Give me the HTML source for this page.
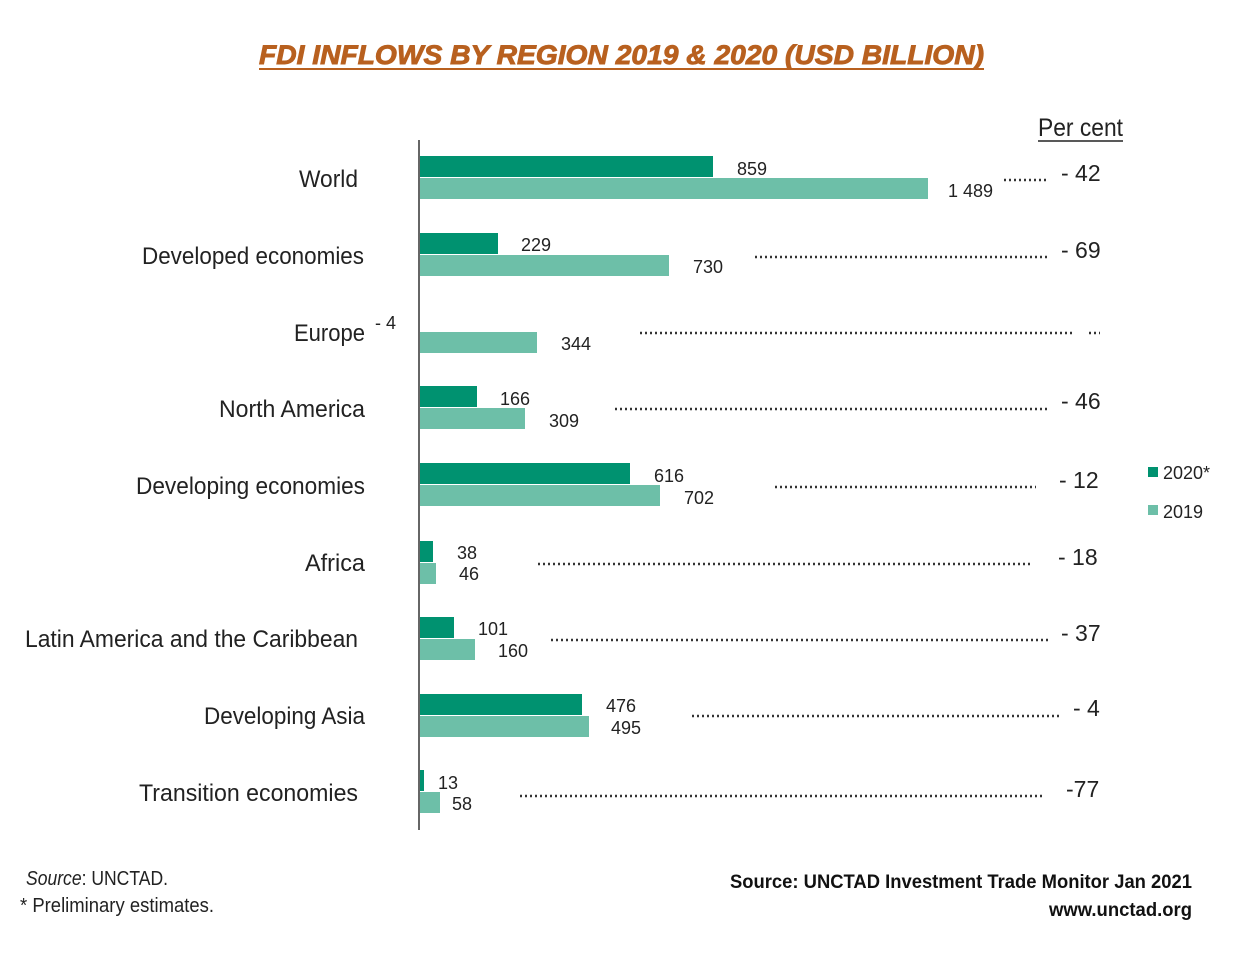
<!DOCTYPE html>
<html><head><meta charset="utf-8"><style>
body{margin:0;background:#fff;}
svg{display:block;font-family:"Liberation Sans",sans-serif;}
</style></head><body>
<svg width="1240" height="953" viewBox="0 0 1240 953" xmlns="http://www.w3.org/2000/svg">
<rect width="1240" height="953" fill="#fff"/>
<text x="259" y="64" font-size="27" font-weight="bold" font-style="italic" fill="#b8601f" stroke="#b8601f" stroke-width="0.9" textLength="725" lengthAdjust="spacingAndGlyphs">FDI INFLOWS BY REGION 2019 &amp; 2020 (USD BILLION)</text>
<line x1="259" y1="69" x2="984" y2="69" stroke="#b8601f" stroke-width="2"/>
<text x="1038" y="136" font-size="25" fill="#222" textLength="85" lengthAdjust="spacingAndGlyphs">Per cent</text>
<line x1="1038" y1="141" x2="1123" y2="141" stroke="#222" stroke-width="1.5"/>
<line x1="419" y1="140" x2="419" y2="830" stroke="#666" stroke-width="2"/>
<g fill="#009270">
<rect x="420" y="156" width="293" height="21"/>
<rect x="420" y="233" width="78" height="21"/>
<rect x="420" y="386" width="57" height="21"/>
<rect x="420" y="463" width="210" height="21"/>
<rect x="420" y="541" width="13" height="21"/>
<rect x="420" y="617" width="34" height="21"/>
<rect x="420" y="694" width="162" height="21"/>
<rect x="420" y="770" width="4" height="21"/>
</g>
<g fill="#6dbfa8">
<rect x="420" y="178" width="508" height="21"/>
<rect x="420" y="255" width="249" height="21"/>
<rect x="420" y="332" width="117" height="21"/>
<rect x="420" y="408" width="105" height="21"/>
<rect x="420" y="485" width="240" height="21"/>
<rect x="420" y="563" width="16" height="21"/>
<rect x="420" y="639" width="55" height="21"/>
<rect x="420" y="716" width="169" height="21"/>
<rect x="420" y="792" width="20" height="21"/>
</g>
<g font-size="24" fill="#222" text-anchor="end">
<text x="358" y="187" textLength="59" lengthAdjust="spacingAndGlyphs">World</text>
<text x="364" y="264" textLength="222" lengthAdjust="spacingAndGlyphs">Developed economies</text>
<text x="365" y="341" textLength="71" lengthAdjust="spacingAndGlyphs">Europe</text>
<text x="365" y="417" textLength="146" lengthAdjust="spacingAndGlyphs">North America</text>
<text x="365" y="494" textLength="229" lengthAdjust="spacingAndGlyphs">Developing economies</text>
<text x="365" y="571" textLength="60" lengthAdjust="spacingAndGlyphs">Africa</text>
<text x="358" y="647" textLength="333" lengthAdjust="spacingAndGlyphs">Latin America and the Caribbean</text>
<text x="365" y="724" textLength="161" lengthAdjust="spacingAndGlyphs">Developing Asia</text>
<text x="358" y="801" textLength="219" lengthAdjust="spacingAndGlyphs">Transition economies</text>
</g>
<g font-size="18" fill="#222">
<text x="737" y="175">859</text><text x="948" y="197">1 489</text>
<text x="521" y="251">229</text><text x="693" y="273">730</text>
<text x="375" y="329">- 4</text><text x="561" y="350">344</text>
<text x="500" y="405">166</text><text x="549" y="427">309</text>
<text x="654" y="482">616</text><text x="684" y="504">702</text>
<text x="457" y="559">38</text><text x="459" y="580">46</text>
<text x="478" y="635">101</text><text x="498" y="657">160</text>
<text x="606" y="712">476</text><text x="611" y="734">495</text>
<text x="438" y="789">13</text><text x="452" y="810">58</text>
</g>
<g stroke="#333" stroke-width="2.5" stroke-dasharray="2 3">
<line x1="1004" y1="180" x2="1048" y2="180"/>
<line x1="755" y1="257" x2="1048" y2="257"/>
<line x1="640" y1="333" x2="1074" y2="333"/>
<line x1="1089" y1="333" x2="1100" y2="333"/>
<line x1="615" y1="409" x2="1048" y2="409"/>
<line x1="775" y1="487" x2="1036" y2="487"/>
<line x1="538" y1="564" x2="1030" y2="564"/>
<line x1="551" y1="640" x2="1048" y2="640"/>
<line x1="692" y1="716" x2="1060" y2="716"/>
<line x1="520" y1="796" x2="1042" y2="796"/>
</g>
<g font-size="23" fill="#222">
<text x="1061" y="181">- 42</text>
<text x="1061" y="258">- 69</text>
<text x="1061" y="409">- 46</text>
<text x="1059" y="488">- 12</text>
<text x="1058" y="565">- 18</text>
<text x="1061" y="641">- 37</text>
<text x="1073" y="716">- 4</text>
<text x="1066" y="797">-77</text>
</g>
<rect x="1148" y="467" width="10" height="10" fill="#009270"/>
<text x="1163" y="479" font-size="18" fill="#222">2020*</text>
<rect x="1148" y="505" width="10" height="10" fill="#6dbfa8"/>
<text x="1163" y="518" font-size="18" fill="#222">2019</text>
<text x="26" y="885" font-size="20" fill="#222" textLength="142" lengthAdjust="spacingAndGlyphs"><tspan font-style="italic">Source</tspan>: UNCTAD.</text>
<text x="20" y="912" font-size="20" fill="#222" textLength="194" lengthAdjust="spacingAndGlyphs">* Preliminary estimates.</text>
<text x="1192" y="888" font-size="19" font-weight="bold" fill="#111" text-anchor="end" textLength="462" lengthAdjust="spacingAndGlyphs">Source:  UNCTAD Investment Trade Monitor Jan 2021</text>
<text x="1192" y="916" font-size="19" font-weight="bold" fill="#111" text-anchor="end" textLength="143" lengthAdjust="spacingAndGlyphs">www.unctad.org</text>
</svg>
</body></html>
